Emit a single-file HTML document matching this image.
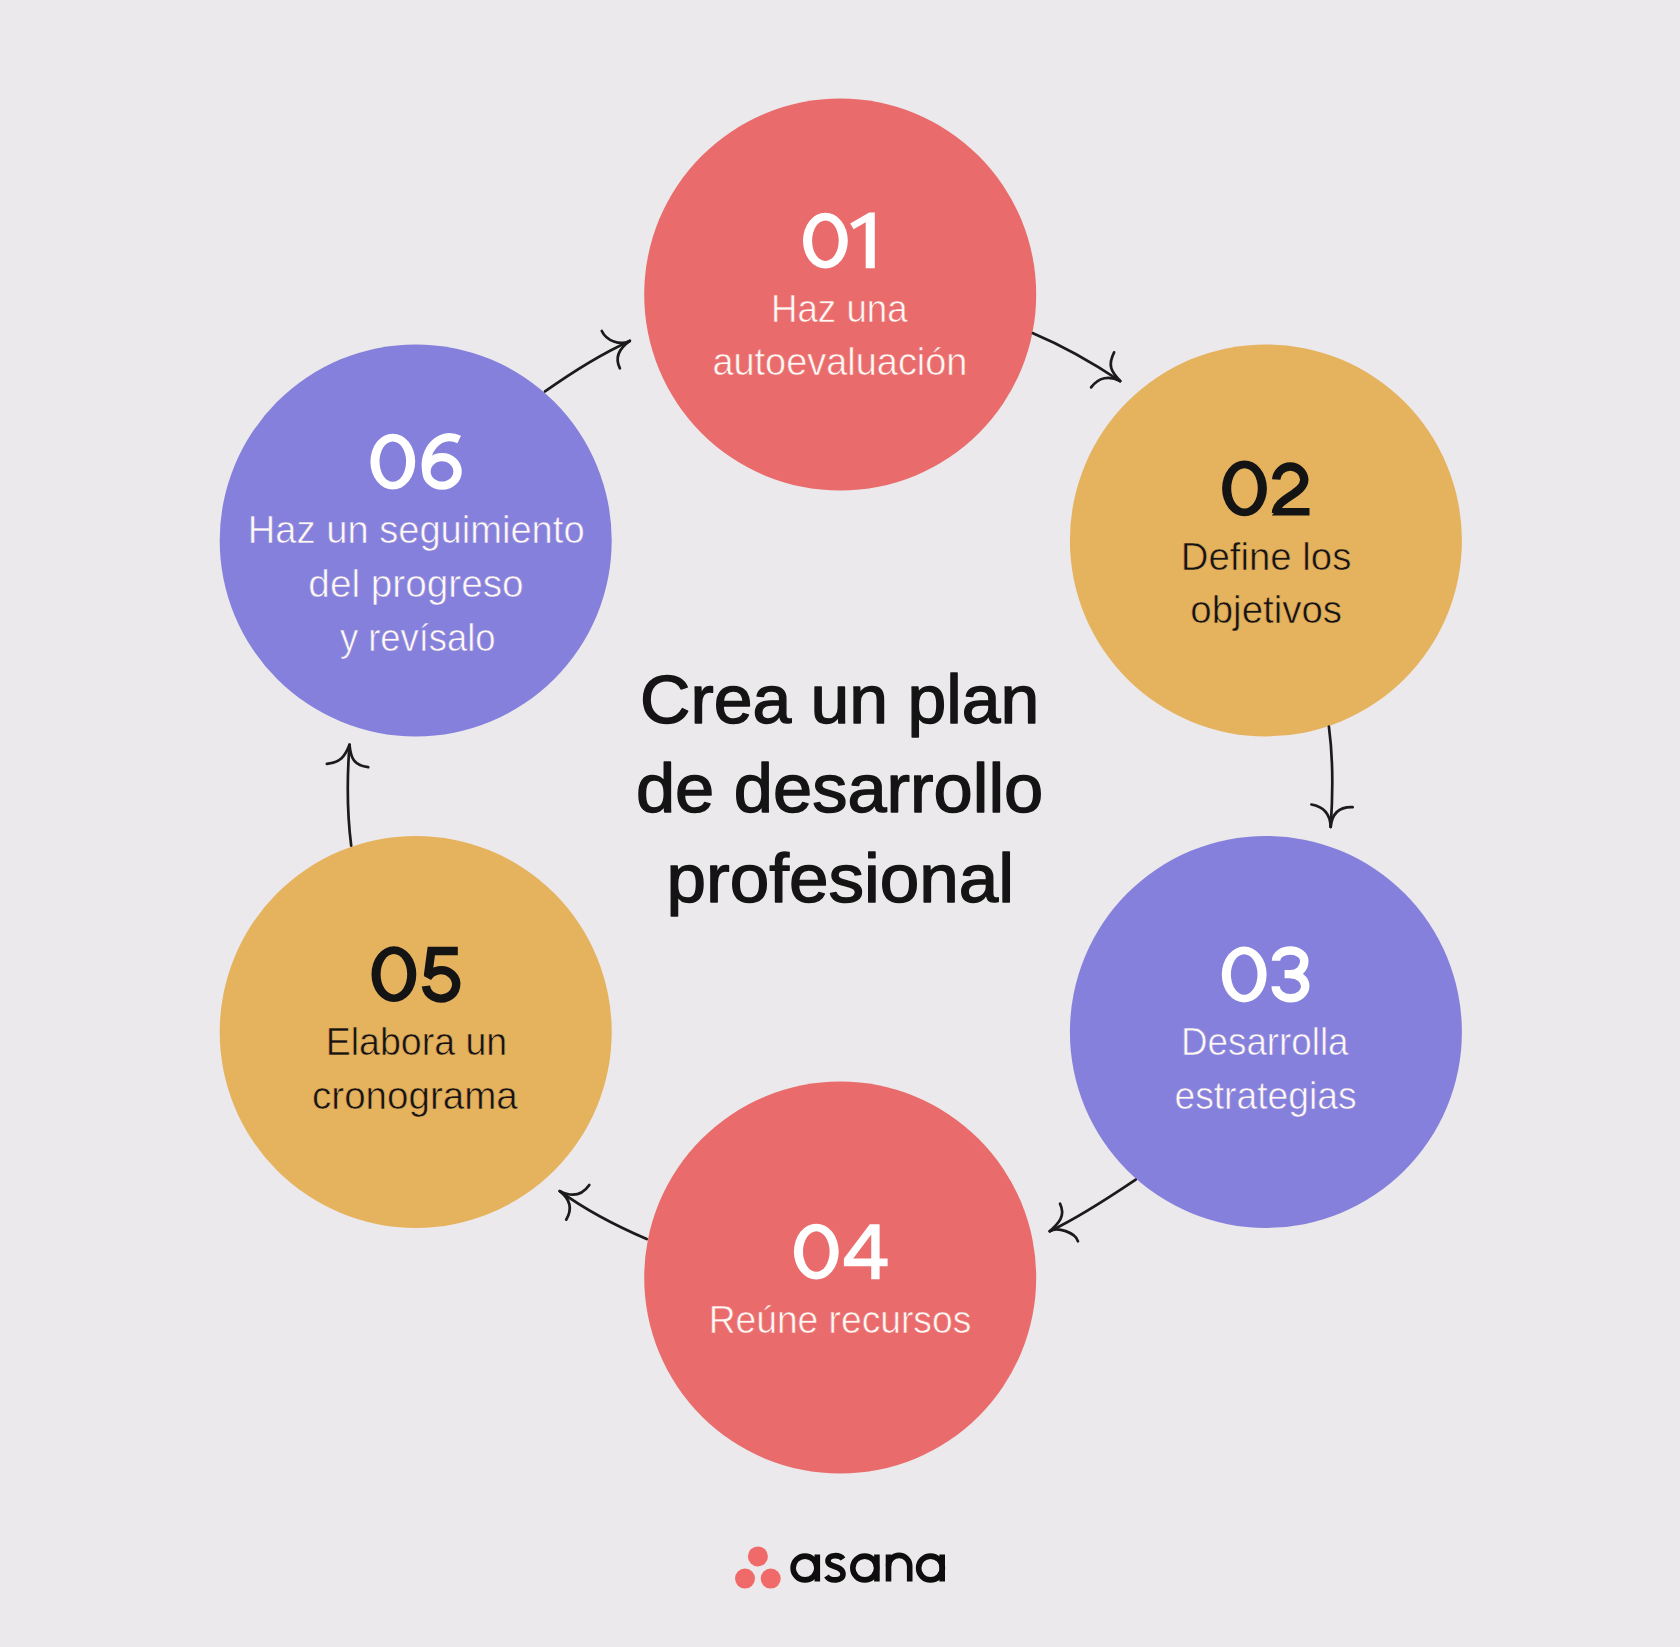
<!DOCTYPE html>
<html><head><meta charset="utf-8"><style>
html,body{margin:0;padding:0;background:#ebe9eb;width:1680px;height:1647px;overflow:hidden}
svg{display:block}
text{font-family:"Liberation Sans",sans-serif}
</style></head><body>
<svg width="1680" height="1647" viewBox="0 0 1680 1647">
<rect width="1680" height="1647" fill="#ebe9eb"/>

<circle cx="840.2" cy="294.6" r="196" fill="#e96b6c"/>
<circle cx="1265.9" cy="540.4" r="196" fill="#e5b25e"/>
<circle cx="1265.9" cy="1031.9" r="196" fill="#8580dc"/>
<circle cx="840.2" cy="1277.6" r="196" fill="#e96b6c"/>
<circle cx="415.7" cy="1031.9" r="196" fill="#e5b25e"/>
<circle cx="415.7" cy="540.4" r="196" fill="#8580dc"/>
<g fill="none" stroke="#1b1b1b" stroke-width="2.7" stroke-linecap="round">
<path d="M545.0,391.4 C570.9,373.0 600.7,354.2 629.8,340.9"/>
<path d="M601.8,331.0 C606.3,340.8 620.1,346.0 629.8,340.9"/>
<path d="M619.9,368.3 C613.9,356.4 620.4,347.6 629.8,340.9"/>
<path d="M1033.0,333.2 C1063.6,346.1 1092.5,362.6 1120.1,381.0"/>
<path d="M1114.1,352.3 C1107.6,365.3 1110.9,371.2 1120.1,381.0"/>
<path d="M1091.1,387.4 C1098.5,377.3 1109.4,375.2 1120.1,381.0"/>
<path d="M1328.9,726.6 C1333.4,760.1 1333.0,793.2 1330.7,826.8"/>
<path d="M1311.4,804.5 C1324.2,806.6 1330.1,814.1 1330.7,826.8"/>
<path d="M1352.7,807.2 C1338.8,806.6 1332.1,813.3 1330.7,826.8"/>
<path d="M1135.7,1179.7 C1110.0,1197.0 1078.0,1218.1 1049.8,1231.2"/>
<path d="M1060.0,1203.7 C1066.0,1216.1 1058.6,1223.4 1049.8,1231.2"/>
<path d="M1078.0,1241.3 C1075.5,1232.6 1057.2,1226.2 1049.8,1231.2"/>
<path d="M646.7,1239.0 C616.9,1226.2 586.0,1210.2 559.8,1191.1"/>
<path d="M589.3,1185.0 C581.7,1195.9 571.1,1196.9 559.8,1191.1"/>
<path d="M566.2,1219.7 C573.0,1208.2 570.0,1199.0 559.8,1191.1"/>
<path d="M351.2,845.7 C346.9,811.6 346.9,779.0 349.5,744.8"/>
<path d="M326.9,763.9 C340.6,762.5 344.7,756.8 349.5,744.8"/>
<path d="M368.2,767.2 C353.5,765.2 350.9,758.2 349.5,744.8"/>
</g>
<g fill="#ffffff"><path fill-rule="evenodd" d="M803.00,240.65 a22.4,27.9 0 1,0 44.80,0 a22.4,27.9 0 1,0 -44.80,0 Z M812.10,240.65 a13.3,20.2 0 1,0 26.60,0 a13.3,20.2 0 1,0 -26.60,0 Z"/><path d="M850.2,223.6 L869.2,212.5 L874.8,212.5 L874.8,268.2 L865.7,268.2 L865.7,222.3 L853.6,229.3 Z"/></g>
<text x="770.97" y="321.90" font-size="38.80" font-weight="400" fill="#fff8f4" stroke="#e96b6c" stroke-width="0.6" textLength="136.61" lengthAdjust="spacingAndGlyphs">Haz una</text>
<text x="712.39" y="375.00" font-size="38.80" font-weight="400" fill="#fff8f4" stroke="#e96b6c" stroke-width="0.6" textLength="255.09" lengthAdjust="spacingAndGlyphs">autoevaluación</text>
<g fill="#141414"><path fill-rule="evenodd" d="M1222.10,488.40 a22.4,27.9 0 1,0 44.80,0 a22.4,27.9 0 1,0 -44.80,0 Z M1231.20,488.40 a13.3,20.2 0 1,0 26.60,0 a13.3,20.2 0 1,0 -26.60,0 Z"/><path fill="none" stroke="#141414" stroke-width="8.4" d="M1276.2,479.5 A14.1,14.15 0 0,1 1304.3,479.5 C1304.3,494 1276,498 1276,513"/><path d="M1271.8,515.5 L1309.5,515.5 L1309.5,508 L1278,508 Z"/></g>
<text x="1180.84" y="569.60" font-size="38.80" font-weight="400" fill="#141414" stroke="#e5b25e" stroke-width="0.6" textLength="170.48" lengthAdjust="spacingAndGlyphs">Define los</text>
<text x="1190.37" y="622.70" font-size="38.80" font-weight="400" fill="#141414" stroke="#e5b25e" stroke-width="0.6" textLength="151.66" lengthAdjust="spacingAndGlyphs">objetivos</text>
<g fill="#ffffff"><path fill-rule="evenodd" d="M1221.80,974.50 a22.4,27.9 0 1,0 44.80,0 a22.4,27.9 0 1,0 -44.80,0 Z M1230.90,974.50 a13.3,20.2 0 1,0 26.60,0 a13.3,20.2 0 1,0 -26.60,0 Z"/><path fill="none" stroke="#ffffff" stroke-width="8.4" d="M1276.05,960.7 A14.1,10.3 0 0,1 1304.3,960.9 C1304.3,969 1298,974.15 1290.3,974.15 H1284.6"/><path fill="none" stroke="#ffffff" stroke-width="8.4" d="M1290.3,974.15 A14.8,12.05 0 1,1 1275.65,986.2"/></g>
<text x="1180.97" y="1055.30" font-size="38.80" font-weight="400" fill="#fff8f4" stroke="#8580dc" stroke-width="0.6" textLength="167.62" lengthAdjust="spacingAndGlyphs">Desarrolla</text>
<text x="1174.42" y="1109.40" font-size="38.80" font-weight="400" fill="#fff8f4" stroke="#8580dc" stroke-width="0.6" textLength="182.26" lengthAdjust="spacingAndGlyphs">estrategias</text>
<g fill="#ffffff"><path fill-rule="evenodd" d="M793.90,1251.60 a22.4,27.9 0 1,0 44.80,0 a22.4,27.9 0 1,0 -44.80,0 Z M803.00,1251.60 a13.3,20.2 0 1,0 26.60,0 a13.3,20.2 0 1,0 -26.60,0 Z"/><path fill-rule="evenodd" d="M843.9,1266.2 L871.25,1266.2 L871.25,1279.2 L879.6,1279.2 L879.6,1266.2 L887.6,1266.2 L887.6,1258.5 L879.6,1258.5 L879.6,1224.2 L869.8,1224.2 L843.9,1258.5 Z M853.2,1258.5 L871.25,1258.5 L871.25,1234.6 Z"/></g>
<text x="708.63" y="1332.50" font-size="38.80" font-weight="400" fill="#fff8f4" stroke="#e96b6c" stroke-width="0.6" textLength="262.64" lengthAdjust="spacingAndGlyphs">Reúne recursos</text>
<g fill="#141414"><path fill-rule="evenodd" d="M371.50,974.20 a22.4,27.9 0 1,0 44.80,0 a22.4,27.9 0 1,0 -44.80,0 Z M380.60,974.20 a13.3,20.2 0 1,0 26.60,0 a13.3,20.2 0 1,0 -26.60,0 Z"/><path fill="none" stroke="#141414" stroke-width="8.4" stroke-miterlimit="6" d="M457.8,951.05 H431.3 L428,975.5"/><path fill="none" stroke="#141414" stroke-width="8.4" d="M427.4,978 A15.2,14.2 0 1,1 425.9,986"/></g>
<text x="325.70" y="1055.30" font-size="38.80" font-weight="400" fill="#141414" stroke="#e5b25e" stroke-width="0.6" textLength="181.51" lengthAdjust="spacingAndGlyphs">Elabora un</text>
<text x="312.06" y="1109.40" font-size="38.80" font-weight="400" fill="#141414" stroke="#e5b25e" stroke-width="0.6" textLength="205.68" lengthAdjust="spacingAndGlyphs">cronograma</text>
<g fill="#ffffff"><path fill-rule="evenodd" d="M370.40,461.60 a22.4,27.9 0 1,0 44.80,0 a22.4,27.9 0 1,0 -44.80,0 Z M379.50,461.60 a13.3,20.2 0 1,0 26.60,0 a13.3,20.2 0 1,0 -26.60,0 Z"/><ellipse fill="none" stroke="#ffffff" stroke-width="8.4" cx="442" cy="471.4" rx="15.55" ry="14.25"/><path fill="none" stroke="#ffffff" stroke-width="8.4" d="M426.45,471.4 C422.3,451.9 438.8,430.1 459.2,439.5"/></g>
<text x="247.86" y="543.20" font-size="38.80" font-weight="400" fill="#fff8f4" stroke="#8580dc" stroke-width="0.6" textLength="336.71" lengthAdjust="spacingAndGlyphs">Haz un seguimiento</text>
<text x="308.35" y="596.80" font-size="38.80" font-weight="400" fill="#fff8f4" stroke="#8580dc" stroke-width="0.6" textLength="215.26" lengthAdjust="spacingAndGlyphs">del progreso</text>
<text x="339.91" y="651.40" font-size="38.80" font-weight="400" fill="#fff8f4" stroke="#8580dc" stroke-width="0.6" textLength="155.62" lengthAdjust="spacingAndGlyphs">y revísalo</text>
<text x="640.11" y="722.90" font-size="68.00" font-weight="400" fill="#141414" stroke="#141414" stroke-width="1.4" stroke-linejoin="round" textLength="399.21" lengthAdjust="spacingAndGlyphs">Crea un plan</text>
<text x="635.91" y="811.80" font-size="68.00" font-weight="400" fill="#141414" stroke="#141414" stroke-width="1.4" stroke-linejoin="round" textLength="407.31" lengthAdjust="spacingAndGlyphs">de desarrollo</text>
<text x="666.48" y="901.80" font-size="68.00" font-weight="400" fill="#141414" stroke="#141414" stroke-width="1.4" stroke-linejoin="round" textLength="347.70" lengthAdjust="spacingAndGlyphs">profesional</text>
<g fill="#f06a6a"><circle cx="757.9" cy="1556.4" r="10"/><circle cx="745" cy="1578.6" r="10"/><circle cx="770.7" cy="1578.6" r="10"/></g><g fill="none" stroke="#0d0d0d" stroke-width="5.6"><circle cx="805" cy="1568" r="11.9"/><path d="M817.3,1554.5 V1581.5"/><circle cx="864.7" cy="1568" r="11.9"/><path d="M876.9,1554.5 V1581.5"/><path d="M888.5,1581.5 V1566 A10.6,10.6 0 0 1 909.7,1566 V1581.5"/><path d="M888.5,1554.5 V1566"/><circle cx="930.5" cy="1568" r="11.9"/><path d="M942.2,1554.5 V1581.5"/><path d="M843,1559 C840,1554.5 828,1554 828,1561 C828,1568 843,1565 843,1574 C843,1581.5 830,1581.5 826.5,1576"/></g>
</svg></body></html>
